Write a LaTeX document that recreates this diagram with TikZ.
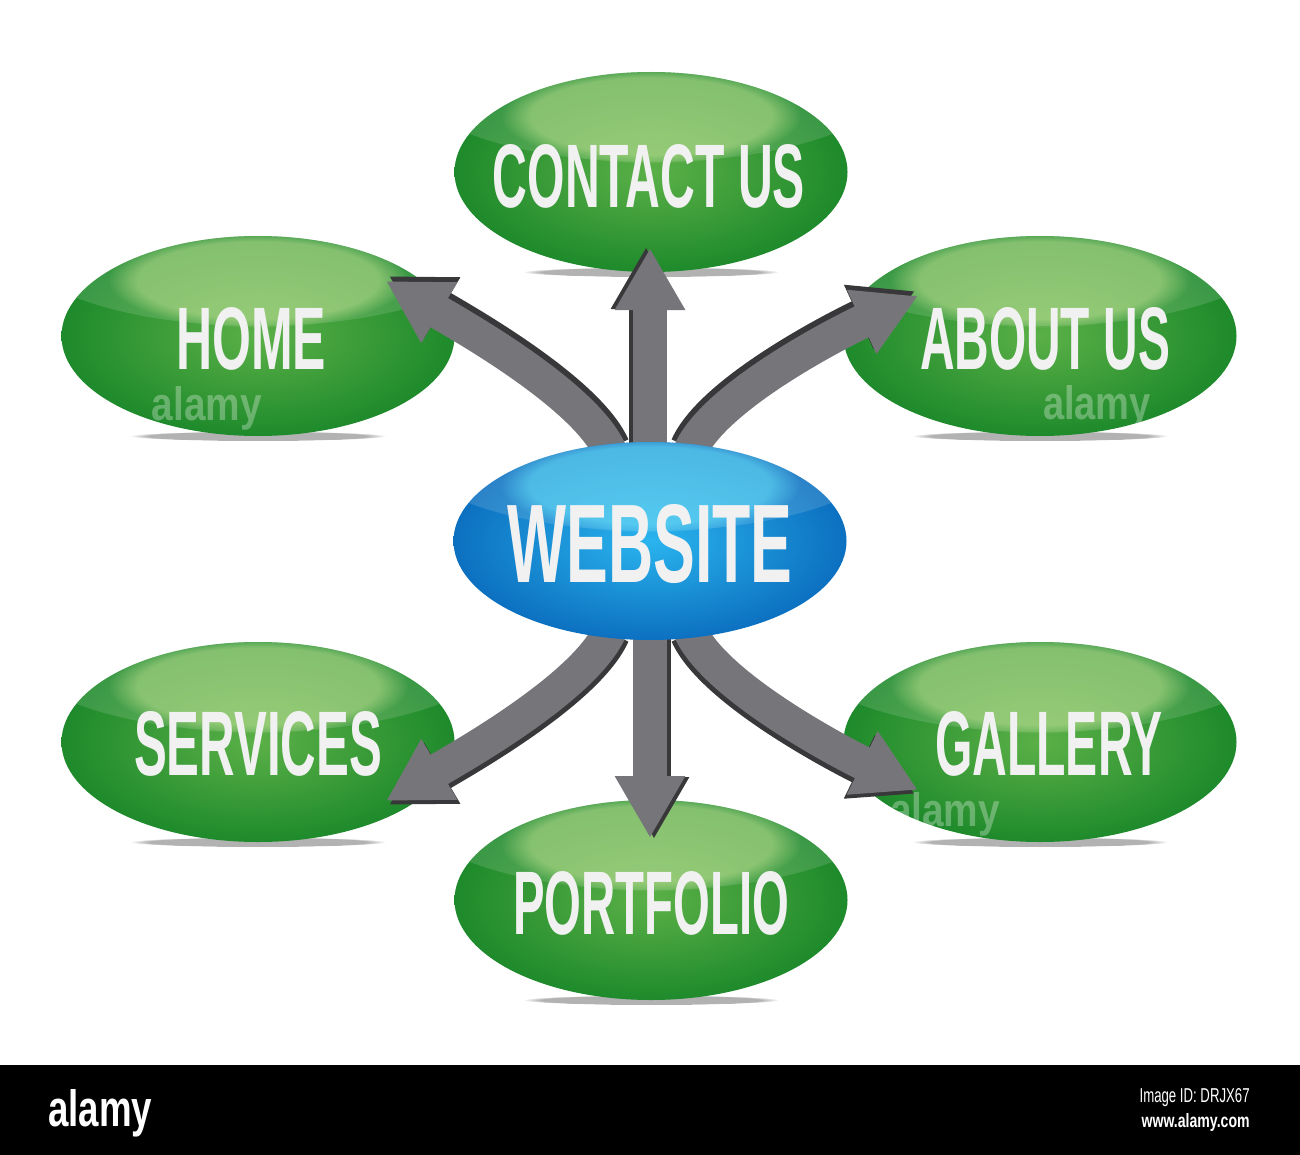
\documentclass[tikz,border=0pt]{standalone}
\usepackage{fontspec}
\setmainfont{Liberation Sans}
\usetikzlibrary{arrows.meta,shapes.geometric,calc,fadings}
\definecolor{gin}{HTML}{5BB047}
\definecolor{gout}{HTML}{1E8A2B}
\definecolor{ghi}{HTML}{B4DA8A}
\definecolor{bin}{HTML}{2AB4EE}
\definecolor{bout}{HTML}{0C70C0}
\definecolor{bhi}{HTML}{62DAF6}
\definecolor{agray}{HTML}{76767A}
\definecolor{adark}{HTML}{38383A}
\definecolor{txt}{HTML}{F1F1F1}
\pgfdeclarelayer{front}
\pgfsetlayers{main,front}
\tikzset{
  gloss/.style={path picture={
     \fill[white,opacity=0.13] ([yshift=50pt]path picture bounding box.center) ellipse [x radius=125pt, y radius=45pt];
     \fill[#1,opacity=0.6, path fading=circle with fuzzy edge 20 percent] ([yshift=28pt]path picture bounding box.center) ellipse [x radius=75pt, y radius=24pt];
  }},
  greenbox/.style={ellipse, minimum width=196.5pt, minimum height=100pt, inner sep=0pt, inner color=gin, outer color=gout, gloss=ghi},
  bluebox/.style={ellipse, minimum width=196.5pt, minimum height=99pt, inner sep=0pt, inner color=bin, outer color=bout, gloss=bhi},
  lbl/.style={inner sep=0pt, text=txt, font=\bfseries},
  shadowell/.style={fill=black, opacity=0.3, path fading=circle with fuzzy edge 15 percent},
  arrbody/.style={line width=17pt, draw=agray, -{Triangle[width=33pt,length=31pt]}},
  arrshade/.style={arrbody, draw=adark},
  wmark/.style={inner sep=0pt, text=white, opacity=0.3, font=\bfseries},
  barlbl/.style={inner sep=0pt, text=white},
}
\begin{document}
\begin{tikzpicture}[x=0.5pt,y=-0.5pt]
\useasboundingbox (0,0) rectangle (1300,1155);
\fill[white] (0,0) rectangle (1300,1155);

% shadows
\foreach \cx/\cy in {258/336, 651/172, 1040/336, 258/742, 651/900, 1040/742}{
  \fill[shadowell] (\cx,\cy+100) ellipse [x radius=64pt, y radius=2.5pt];
}

% target ellipses
\node[greenbox] (contact) at (651,172) {};
\node[greenbox] (home) at (258,336) {};
\node[greenbox] (about) at (1040,336) {};
\node[greenbox] (services) at (258,742) {};
\node[greenbox] (gallery) at (1040,742) {};
\node[greenbox] (portfolio) at (651,900) {};

\node[lbl] (contactL) at (649,176) {\resizebox{156pt}{31.5pt}{CONTACT US}};
\node[lbl] (homeL) at (251,339) {\resizebox{75pt}{31pt}{HOME}};
\node[lbl] (aboutL) at (1045,339) {\resizebox{125pt}{31pt}{ABOUT US}};
\node[lbl] (servicesL) at (258,744) {\resizebox{124pt}{32pt}{SERVICES}};
\node[lbl] (galleryL) at (1049,744) {\resizebox{114pt}{32pt}{GALLERY}};
\node[lbl] (portfolioL) at (651,903) {\resizebox{138pt}{31.5pt}{PORTFOLIO}};

% centre node (drawn on the front layer, above the arrows)
\begin{pgfonlayer}{front}
\node[bluebox] (web) at (650,541) {};
\node[lbl] (webL) at (650,544) {\resizebox{142.5pt}{39pt}{WEBSITE}};
\end{pgfonlayer}

% arrow end points
\coordinate (tContact) at ($(contact.center)+(-1,76)$);
\coordinate (tHome) at ($(home.center)+(128,-55)$);
\coordinate (tAbout) at ($(about.center)+(-122,-40)$);
\coordinate (tServices) at ($(services.center)+(128,59)$);
\coordinate (tGallery) at ($(gallery.center)+(-122,48)$);
\coordinate (tPortfolio) at ($(portfolio.center)+(-1,-62)$);

% dark sides of the arrows
\draw[arrshade, transform canvas={xshift=1.5pt,yshift=2.5pt}] ($(web.north)+(-40,10)$) .. controls (585,395) and (460,325) .. (tHome);
\draw[arrshade, transform canvas={xshift=-1.5pt,yshift=2.5pt}] ($(web.north)+(40,10)$) .. controls (715,395) and (844,330) .. (tAbout);
\draw[arrshade, transform canvas={xshift=-2pt,yshift=0.5pt}] ($(web.north)+(0,10)$) -- (tContact);
\draw[arrshade, transform canvas={xshift=1.5pt,yshift=-2pt}] ($(web.south)+(-40,-10)$) .. controls (585,687) and (460,757) .. (tServices);
\draw[arrshade, transform canvas={xshift=-1.5pt,yshift=-2pt}] ($(web.south)+(40,-10)$) .. controls (715,687) and (844,754) .. (tGallery);
\draw[arrshade, transform canvas={xshift=2pt,yshift=-0.5pt}] ($(web.south)+(0,-10)$) -- (tPortfolio);

% arrow bodies
\draw[arrbody] ($(web.north)+(-40,10)$) .. controls (585,395) and (460,325) .. (tHome);
\draw[arrbody] ($(web.north)+(40,10)$) .. controls (715,395) and (844,330) .. (tAbout);
\draw[arrbody] ($(web.north)+(0,10)$) -- (tContact);
\draw[arrbody] ($(web.south)+(-40,-10)$) .. controls (585,687) and (460,757) .. (tServices);
\draw[arrbody] ($(web.south)+(40,-10)$) .. controls (715,687) and (844,754) .. (tGallery);
\draw[arrbody] ($(web.south)+(0,-10)$) -- (tPortfolio);

% faint watermarks
\node[wmark] (wm1) at (207,408) {\resizebox{55pt}{17pt}{alamy}};
\node[wmark] (wm2) at (1097,407) {\resizebox{54pt}{17pt}{alamy}};
\node[wmark] (wm3) at (945,814) {\resizebox{55pt}{17pt}{alamy}};

% bottom bar
\fill[black] (0,1065) rectangle (1300,1155);
\node[barlbl, anchor=base west, font=\bfseries] (logo) at (48,1126) {\resizebox{52pt}{18.5pt}{alamy}};
\node[barlbl, anchor=east] (imgid) at (1250,1098) {\resizebox{55pt}{7pt}{Image ID: DRJX67}};
\node[barlbl, anchor=east, font=\bfseries] (url) at (1250,1122) {\resizebox{54pt}{7pt}{www.alamy.com}};
\end{tikzpicture}
\end{document}
